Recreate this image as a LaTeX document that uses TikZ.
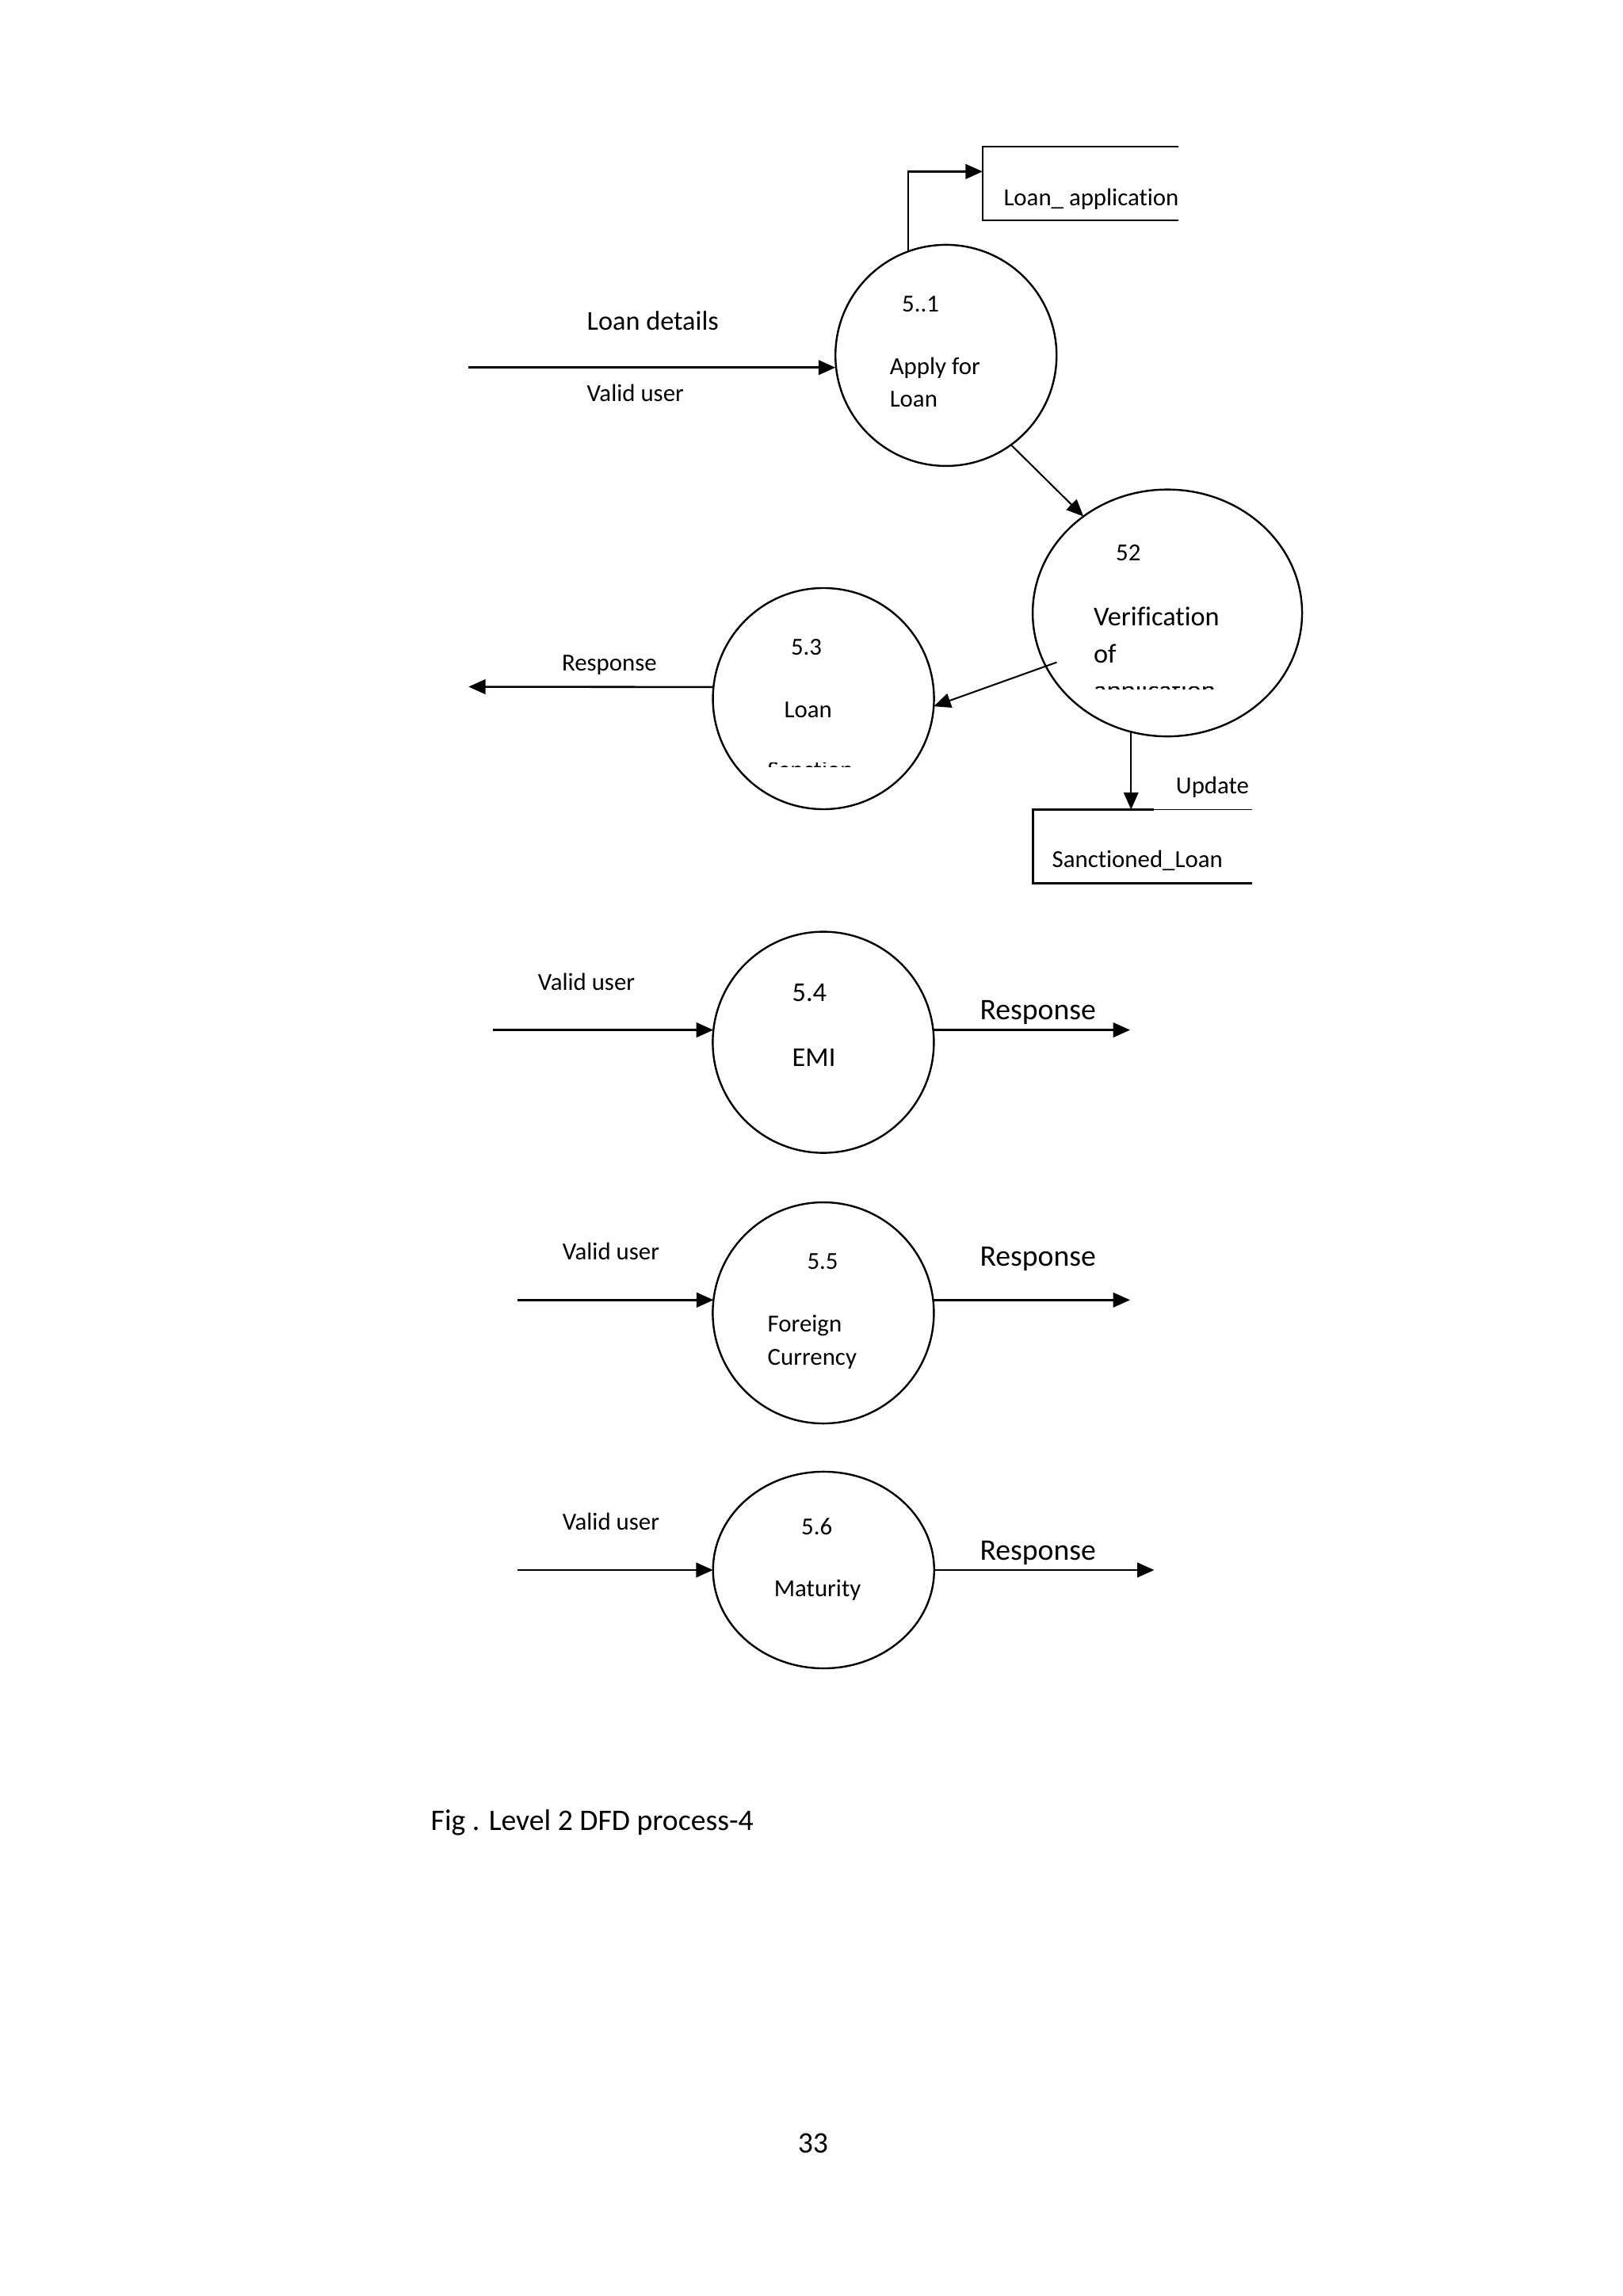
\documentclass[tikz,border=0pt]{standalone}
\usepackage{fontspec}
\setmainfont[Ligatures=NoCommon]{Carlito}
\usetikzlibrary{arrows.meta,calc,shapes.geometric}
\begin{document}
\begin{tikzpicture}[x=0.018953cm,y=-0.018953cm,
  proc/.style={circle,draw,line width=0.7pt,inner sep=0pt,outer sep=0pt,minimum size=2.862cm},
  proce/.style={ellipse,draw,line width=0.7pt,inner sep=0pt,outer sep=0pt},
  storenode/.style={rectangle,inner sep=0pt,outer sep=0pt,anchor=north west},
  storeline/.style={line width=0.7pt},
  flow/.style={line width=0.75pt,-{Triangle[length=2.2mm,width=1.9mm]}},
  thinflow/.style={line width=0.6pt,-{Triangle[length=2.2mm,width=1.9mm]}},
  lbl/.style={inner sep=0pt,outer sep=0pt,anchor=base west,font=\fontsize{9}{11}\selectfont},
  lblm/.style={lbl,font=\fontsize{10}{12}\selectfont},
  lblb/.style={lbl,font=\fontsize{11}{13}\selectfont},
]
\fill[white] (0,0) rectangle (1108,1568);
\useasboundingbox (0,0) rectangle (1108,1568);

% processes
\node[proc] (p51) at (646.1,242.7) {};
\node[proce,minimum width=3.487cm,minimum height=3.195cm] (p52) at (797.3,418.6) {};
\node[proc] (p53) at (562.4,477.1) {};
\node[proc] (p54) at (562.3,711.8) {};
\node[proc] (p55) at (562.3,896.6) {};
\node[proce,minimum width=2.862cm,minimum height=2.545cm] (p56) at (562.5,1072.2) {};

% data stores
\node[storenode,minimum width=2.538cm,minimum height=0.957cm] (la) at (671.1,100.1) {};
\draw[storeline] (la.north east) -- (la.north west) -- (la.south west) -- (la.south east);
\node[storenode,minimum width=2.841cm,minimum height=0.953cm] (sl) at (705.3,552.8) {};
\draw[line width=0.85pt] ($(sl.north west)+(83,0)$) -- (sl.north west) -- (sl.south west) -- (sl.south east);
\draw[line width=0.4pt] ($(sl.north west)+(83,0)$) -- (sl.north east);

% texts 5.1
\node[lblm] (tld) at (400.9,225.6) {Loan details};
\node[lbl] (tvu1) at (400.9,274.1) {Valid user};
\node[lbl] (t51) at (616,212.8) {5..1};
\node[lbl] (tapply) at (607.7,255.7) {Apply for};
\node[lbl] (tloan1) at (607.7,278.2) {Loan};
\begin{scope}
\clip (671,100) rectangle (806,151);
\node[lbl] (tla) at (685.5,140.3) {Loan\_ application};
\end{scope}

% texts 5.2
\node[lbl] (t52) at (762.2,382.9) {52};
\node[lblm] (tver) at (747,427.2) {Verification};
\node[lblm] (tof) at (747,452.7) {of};
\begin{scope}
\clip (740,469) rectangle (860,470.8);
\node[lblm] (tapp) at (747,477.7) {application};
\end{scope}

% texts 5.3
\node[lbl] (t53) at (540.2,447.5) {5.3};
\node[lbl] (tloan2) at (535.6,490) {Loan};
\begin{scope}
\clip (500,521.2) rectangle (620,523.6);
\node[lbl] (tsanc) at (524.2,531) {Sanction};
\end{scope}
\node[lbl] (tr53) at (383.8,458.3) {Response};
\node[lbl] (tupd) at (803.2,542.2) {Update};
\node[lbl] (tsl) at (718.6,592.4) {Sanctioned\_Loan};

% texts 5.4
\node[lbl] (tvu4) at (367.5,676.3) {Valid user};
\node[lblm] (t54) at (541.1,683.9) {5.4};
\node[lblm] (temi) at (541.1,728.3) {EMI};
\node[lblb] (tr54) at (669.3,696.4) {Response};

% texts 5.5
\node[lbl] (tvu5) at (384.2,860.3) {Valid user};
\node[lbl] (t55) at (551.3,866.7) {5.5};
\node[lbl] (tfor) at (524.3,909.3) {Foreign};
\node[lbl] (tcur) at (524.3,932.1) {Currency};
\node[lblb] (tr55) at (669.3,864.4) {Response};

% texts 5.6
\node[lbl] (tvu6) at (384.2,1044.6) {Valid user};
\node[lbl] (t56) at (547.3,1048.3) {5.6};
\node[lbl] (tmat) at (528.7,1090.6) {Maturity};
\node[lblb] (tr56) at (669.3,1065.4) {Response};

% caption and page number
\node[lblb] (cap) at (294.3,1250.2) {Fig . Level 2 DFD process-4};
\node[lblb] (pg) at (544.9,1470.3) {33};

% connectors
\coordinate (in1) at (319.7,251);
\draw[flow] (in1) -- (in1 -| p51.west);
\draw[flow] (p51.110) |- ($(la.west)+(0,-8.2)$);
\draw[thinflow] (p51.-54) -- (p52.131);
\draw[thinflow] ($(p52.center)+(-75.6,33.7)$) -- (p53.-4.5);
\coordinate (o53) at (320,469);
\draw[flow] (p53.174) -- (o53);
\draw[thinflow] (p52.-107) -- (p52.-107 |- sl.north);

\coordinate (i54) at (336.4,703.4);
\coordinate (o54) at (771.8,703.4);
\draw[flow] (i54) -- (i54 -| p54.174);
\draw[flow] (o54 -| p54.6) -- (o54);

\coordinate (i55) at (353.2,887.8);
\coordinate (o55) at (771.8,887.8);
\draw[flow] (i55) -- (i55 -| p55.173);
\draw[flow] (o55 -| p55.7) -- (o55);

\coordinate (i56) at (353.2,1072.2);
\coordinate (o56) at (788.3,1072.2);
\draw[flow] (i56) -- (p56.west);
\draw[flow] (p56.east) -- (o56);
\end{tikzpicture}
\end{document}
